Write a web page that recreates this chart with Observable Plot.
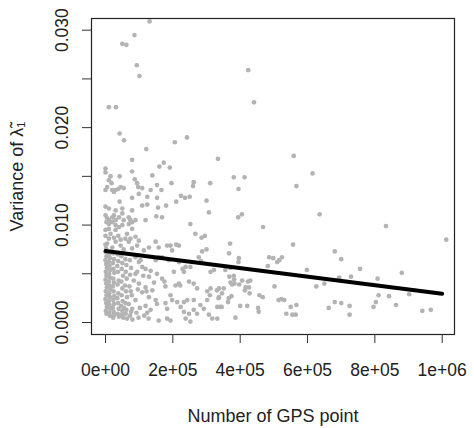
<!DOCTYPE html>
<html><head><meta charset="utf-8">
<script src="https://cdn.jsdelivr.net/npm/d3@7"></script>
<script src="https://cdn.jsdelivr.net/npm/@observablehq/plot@0.6"></script>
<style>html,body{margin:0;padding:0;background:#fff}svg{display:block}</style>
</head><body><div id="chart"></div>
<script>
// [number of GPS points, variance]
const sparseObs = [[131e3,30.9e-3],[86e3,29.5e-3],[50e3,28.6e-3],[62e3,28.5e-3],[93e3,26.4e-3],[101e3,25.3e-3],[10e3,22.1e-3],[31e3,22.1e-3],[424e3,25.9e-3],[441e3,22.6e-3],[42e3,19.4e-3],[55e3,18.7e-3],[121e3,17.8e-3],[242e3,19.0e-3],[206e3,18.5e-3],[334e3,16.8e-3],[559e3,17.1e-3],[567e3,14.0e-3],[615e3,15.3e-3],[636e3,11.1e-3],[833e3,9.9e-3],[1012e3,8.5e-3],[468e3,9.8e-3],[381e3,14.9e-3],[413e3,14.9e-3],[395e3,13.7e-3],[394e3,10.8e-3],[405e3,11.1e-3],[311e3,14.3e-3],[307e3,11.3e-3],[300e3,12.5e-3],[250e3,12.9e-3],[224e3,13.0e-3],[236e3,12.8e-3],[196e3,14.3e-3],[191e3,15.9e-3],[173e3,16.4e-3],[160e3,16.0e-3],[139e3,15.1e-3],[134e3,13.6e-3],[153e3,14.1e-3],[166e3,13.6e-3],[180e3,12.0e-3],[168e3,10.8e-3],[151e3,10.9e-3],[210e3,12.4e-3],[262e3,14.4e-3],[260e3,14.0e-3],[252e3,10.1e-3],[267e3,9.1e-3],[285e3,8.7e-3],[295e3,8.9e-3],[300e3,7.5e-3],[284e3,6.3e-3],[367e3,7.1e-3],[370e3,8.1e-3],[396e3,6.6e-3],[395e3,6.2e-3],[371e3,5.6e-3],[368e3,4.7e-3],[382e3,4.4e-3],[397e3,3.9e-3],[416e3,3.6e-3],[423e3,4.2e-3],[428e3,3.0e-3],[400e3,1.7e-3],[421e3,1.7e-3],[386e3,0.5e-3],[455e3,1.1e-3],[453e3,1.5e-3],[457e3,2.8e-3],[467e3,2.6e-3],[482e3,5.8e-3],[486e3,6.7e-3],[498e3,6.6e-3],[510e3,6.2e-3],[524e3,6.7e-3],[516e3,6.4e-3],[502e3,3.7e-3],[514e3,2.3e-3],[522e3,2.4e-3],[531e3,2.3e-3],[537e3,0.9e-3],[550e3,1.6e-3],[567e3,1.8e-3],[555e3,0.8e-3],[565e3,0.8e-3],[557e3,8.0e-3],[598e3,5.4e-3],[626e3,3.7e-3],[650e3,4.0e-3],[663e3,1.5e-3],[681e3,7.3e-3],[700e3,6.5e-3],[681e3,2.1e-3],[700e3,2.0e-3],[694e3,4.6e-3],[725e3,1.7e-3],[725e3,0.8e-3],[729e3,4.7e-3],[756e3,5.5e-3],[796e3,1.6e-3],[803e3,2.1e-3],[811e3,2.8e-3],[808e3,4.5e-3],[842e3,2.7e-3],[863e3,1.8e-3],[880e3,5.1e-3],[902e3,2.9e-3],[941e3,1.2e-3],[966e3,1.3e-3]];

const midObs = [[356e3,5.4e-3],[381e3,4.8e-3],[371e3,4.1e-3],[376e3,3.9e-3],[383e3,4.0e-3],[406e3,4.3e-3],[430e3,4.3e-3],[426e3,3.6e-3],[414e3,3.3e-3],[337e3,3.5e-3],[337e3,2.6e-3],[366e3,2.5e-3],[374e3,2.7e-3],[364e3,2.1e-3],[345e3,1.6e-3],[332e3,1.6e-3],
[193e3,7.9e-3],[210e3,8.0e-3],[287e3,7.3e-3],[203e3,5.2e-3],[229e3,5.5e-3],[233e3,5.2e-3],[238e3,5.7e-3],[312e3,5.2e-3],[322e3,5.4e-3],[168e3,4.5e-3],[175e3,4.2e-3],[178e3,3.7e-3],[208e3,3.8e-3],[218e3,4.0e-3],[222e3,3.8e-3],[248e3,4.2e-3],[262e3,4.0e-3],[272e3,3.5e-3],[302e3,3.2e-3],[312e3,3.5e-3],[310e3,2.8e-3],[331e3,3.3e-3],[346e3,3.0e-3],[351e3,3.5e-3],[193e3,2.8e-3],[198e3,2.3e-3],[213e3,2.1e-3],[233e3,2.1e-3],[243e3,2.3e-3],[262e3,2.3e-3],[302e3,2.3e-3],[282e3,1.8e-3],[292e3,1.4e-3],[336e3,2.5e-3],[341e3,1.6e-3],[178e3,2.0e-3],[183e3,1.4e-3],[223e3,1.6e-3],[233e3,1.1e-3],[248e3,0.9e-3],[262e3,1.3e-3],[272e3,0.9e-3],[183e3,0.4e-3],[193e3,0.2e-3],[238e3,0.4e-3],[252e3,0.1e-3],[307e3,0.8e-3],[317e3,0.4e-3],[332e3,0.4e-3],
[89e3,6.7e-3],[99e3,6.2e-3],[109e3,5.7e-3],[119e3,5.5e-3],[89e3,5.0e-3],[84e3,4.3e-3],[99e3,4.0e-3],[119e3,3.6e-3],[109e3,3.1e-3],[129e3,2.6e-3],[89e3,2.3e-3],[69e3,1.9e-3],[79e3,1.4e-3],[119e3,1.7e-3],[134e3,1.3e-3],[149e3,2.3e-3],[153e3,1.9e-3],[139e3,3.3e-3],[144e3,4.1e-3],[129e3,4.7e-3],[134e3,5.3e-3],[149e3,6.4e-3],[158e3,6.7e-3],[153e3,5.0e-3],[158e3,0.2e-3],[168e3,6.7e-3],[188e3,6.4e-3],[218e3,6.2e-3],[252e3,5.7e-3],[277e3,6.7e-3]];

const upperObs = [[10e3,10.1e-3],[20e3,10.3e-3],[30e3,10.0e-3],[10e3,9.6e-3],[15e3,9.1e-3],[30e3,9.5e-3],[40e3,9.8e-3],[50e3,10.0e-3],[69e3,10.1e-3],[79e3,9.6e-3],[64e3,9.1e-3],[74e3,8.6e-3],[89e3,8.8e-3],[99e3,8.4e-3],[69e3,8.3e-3],[59e3,8.6e-3],[10e3,8.6e-3],[5e3,8.1e-3],[20e3,7.7e-3],[30e3,8.3e-3],[45e3,7.9e-3],[54e3,7.5e-3],[79e3,7.6e-3],[94e3,7.9e-3],[114e3,7.4e-3],[129e3,7.7e-3],[149e3,8.3e-3],[158e3,7.7e-3],[183e3,7.9e-3],[198e3,7.4e-3],[218e3,7.9e-3],
[79e3,16.7e-3],[0,15.8e-3],[0,15.4e-3],[79e3,15.5e-3],[15e3,15.0e-3],[42e3,15.0e-3],[10e3,14.6e-3],[18e3,14.3e-3],[87e3,14.7e-3],[94e3,14.3e-3],[0,13.6e-3],[5e3,13.9e-3],[20e3,13.6e-3],[25e3,13.4e-3],[30e3,13.6e-3],[38e3,13.7e-3],[45e3,13.9e-3],[54e3,13.8e-3],[97e3,13.9e-3],[109e3,13.8e-3],[42e3,12.4e-3],[79e3,12.8e-3],[99e3,13.2e-3],[124e3,12.9e-3],[153e3,12.8e-3],[0,11.9e-3],[10e3,11.7e-3],[30e3,11.5e-3],[50e3,11.7e-3],[79e3,11.5e-3],[109e3,12.0e-3],[124e3,12.1e-3],[156e3,11.8e-3],[0,11.0e-3],[5e3,10.7e-3],[10e3,10.5e-3],[20e3,10.8e-3],[25e3,11.0e-3],[30e3,10.5e-3],[40e3,10.8e-3],[50e3,11.2e-3],[54e3,10.5e-3],[69e3,10.8e-3],[74e3,10.5e-3],[79e3,10.3e-3],[89e3,10.5e-3],[119e3,10.5e-3],
[0,8.9e-3],[0,9.5e-3],[3e3,10.3e-3],[25e3,8.7e-3],[38e3,8.9e-3],[45e3,8.5e-3]];

const denseObs = [[1e3,7.2e-3],[3e3,6.8e-3],[0,6.4e-3],[2e3,6.0e-3],[4e3,5.6e-3],[1e3,5.2e-3],[3e3,4.8e-3],[0,4.4e-3],[2e3,4.0e-3],[4e3,3.6e-3],[1e3,3.2e-3],[3e3,2.8e-3],[0,2.4e-3],[2e3,2.0e-3],[4e3,1.6e-3],[1e3,1.2e-3],[3e3,0.9e-3],[2e3,7.6e-3],[0,8.0e-3],
[11e3,7.0e-3],[13e3,6.6e-3],[10e3,6.2e-3],[12e3,5.8e-3],[14e3,5.4e-3],[11e3,5.0e-3],[13e3,4.6e-3],[10e3,4.2e-3],[12e3,3.8e-3],[14e3,3.4e-3],[11e3,3.0e-3],[13e3,2.6e-3],[10e3,2.2e-3],[12e3,1.8e-3],[14e3,1.4e-3],[11e3,1.0e-3],[13e3,0.7e-3],
[23e3,7.1e-3],[25e3,6.5e-3],[22e3,6.1e-3],[24e3,5.5e-3],[26e3,5.1e-3],[23e3,4.5e-3],[25e3,4.1e-3],[22e3,3.7e-3],[24e3,3.2e-3],[26e3,2.7e-3],[23e3,2.3e-3],[25e3,1.9e-3],[22e3,1.5e-3],[24e3,1.1e-3],[26e3,0.8e-3],[23e3,0.5e-3],
[36e3,7.0e-3],[38e3,6.3e-3],[35e3,5.8e-3],[37e3,5.2e-3],[39e3,4.3e-3],[36e3,3.9e-3],[38e3,3.0e-3],[35e3,2.5e-3],[37e3,2.0e-3],[39e3,1.4e-3],[36e3,0.9e-3],[40e3,0.6e-3],
[47e3,6.8e-3],[50e3,6.1e-3],[48e3,5.5e-3],[52e3,4.8e-3],[47e3,4.2e-3],[50e3,3.5e-3],[48e3,2.8e-3],[51e3,2.2e-3],[46e3,1.7e-3],[50e3,1.2e-3],[48e3,0.8e-3],[53e3,0.5e-3],[55e3,1.5e-3],
[59e3,6.5e-3],[62e3,5.9e-3],[60e3,5.2e-3],[63e3,4.5e-3],[58e3,3.8e-3],[61e3,3.2e-3],[64e3,2.6e-3],[59e3,2.0e-3],[62e3,1.3e-3],[60e3,0.9e-3],[64e3,0.4e-3],
[72e3,6.4e-3],[76e3,5.6e-3],[73e3,4.9e-3],[71e3,3.7e-3],[75e3,3.2e-3],[78e3,2.8e-3],[76e3,1.1e-3],[73e3,0.7e-3],[80e3,0.3e-3],
[94e3,5.2e-3],[96e3,3.4e-3],[92e3,1.0e-3],[98e3,0.5e-3],[102e3,1.5e-3],
[104e3,6.4e-3],[112e3,4.8e-3],[124e3,1.0e-3],[115e3,0.7e-3],[128e3,0.4e-3],[122e3,3.2e-3]];

// fitted regression line
const fitGps = [0, 1e6];
const fitVariance = [7.33e-3, 2.95e-3];

const xTicks = [0, 2e5, 4e5, 6e5, 8e5, 1e6];
const xTickLabels = ["0e+00", "2e+05", "4e+05", "6e+05", "8e+05", "1e+06"];
const yTicks = [0, 0.005, 0.010, 0.015, 0.020, 0.025, 0.030];
const yTickLabels = ["0.000", "", "0.010", "", "0.020", "", "0.030"];
const xTitle = "Number of GPS point";
const yTitle = "Variance of \u03BB\u0303\u2081";

const points = [...sparseObs, ...midObs, ...upperObs, ...denseObs];
const fit = fitGps.map((g, i) => ({gps: g, v: fitVariance[i]}));

const chart = Plot.plot({
  width: 474, height: 428,
  marginLeft: 91, marginRight: 20, marginTop: 18, marginBottom: 94,
  style: {fontFamily: "'Liberation Sans', Arial, sans-serif", fontSize: "17.5px", color: "#222", background: "#fff"},
  x: {domain: [-41580, 1036530]},
  y: {domain: [-0.00123, 0.0312]},
  marks: [
    Plot.dot(points, {x: d => d[0], y: d => d[1], r: 2.35, fill: "#b3b3b3", stroke: "none"}),
    Plot.line(fit, {x: "gps", y: "v", stroke: "#000", strokeWidth: 4}),
    Plot.frame({stroke: "#222", strokeWidth: 1.2}),
    Plot.axisX({ticks: xTicks, tickFormat: d => xTickLabels[xTicks.indexOf(d)], tickSize: 9, tickPadding: 20, label: null, stroke: "#333"}),
    Plot.axisY({ticks: yTicks, tickFormat: d => yTickLabels[yTicks.findIndex(t => Math.abs(t - d) < 1e-9)], tickSize: 9, tickPadding: 15, tickRotate: -90, textAnchor: "middle", lineAnchor: "bottom", label: null, stroke: "#333"}),
    Plot.text([xTitle], {frameAnchor: "bottom", textAnchor: "middle", lineAnchor: "bottom", dy: 87, fontSize: 18}),
    Plot.text([yTitle], {frameAnchor: "left", textAnchor: "middle", rotate: -90, lineAnchor: "bottom", dx: -69, fontSize: 18})
  ]
});
document.getElementById("chart").appendChild(chart);
</script>
</body></html>
